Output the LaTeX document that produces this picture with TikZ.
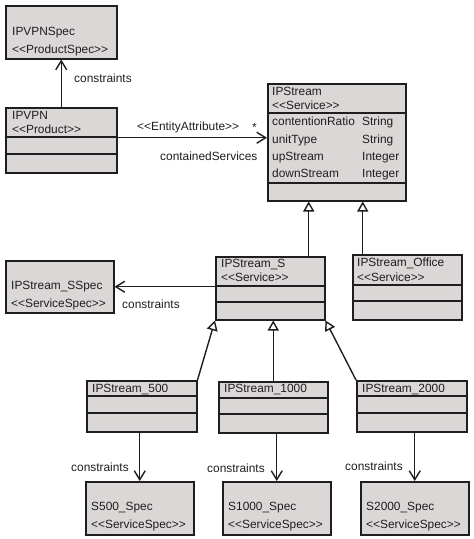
\documentclass[tikz,border=0pt]{standalone}
\usepackage{fontspec}
\setmainfont{Liberation Sans}
\usetikzlibrary{arrows.meta}
\definecolor{boxfill}{RGB}{220,215,215}
\definecolor{ink}{RGB}{30,30,30}
\begin{document}
\begin{tikzpicture}[x=1pt,y=-1pt,
  cls/.style={draw=ink, fill=boxfill, line width=1.5pt, rectangle, inner sep=0pt, anchor=north west},
  cline/.style={draw=ink, line width=1.4pt},
  txt/.style={anchor=mid west, inner sep=0pt, font=\fontsize{11.9}{14}\selectfont, text=ink},
  dep/.style={draw=ink, line width=1.4pt, -{Straight Barb[length=9pt,width=11pt]}},
  gen/.style={draw=ink, line width=1.4pt, -{Triangle[length=10pt,width=11pt,fill=white]}}]
\useasboundingbox (0,0) rectangle (474,539);

% class boxes
\node[cls, minimum width=111pt, minimum height=53pt] (ipvpnspec) at (5,5) {};
\node[cls, minimum width=111pt, minimum height=65pt] (ipvpn) at (5,107) {};
\node[cls, minimum width=138pt, minimum height=117pt] (ipstream) at (267,83) {};
\node[cls, minimum width=108pt, minimum height=52pt] (sspec) at (5,260) {};
\node[cls, minimum width=109pt, minimum height=63pt] (ipsS) at (215,256) {};
\node[cls, minimum width=109pt, minimum height=65pt] (ipsO) at (352,254) {};
\node[cls, minimum width=110pt, minimum height=51pt] (ips500) at (86,380) {};
\node[cls, minimum width=109pt, minimum height=51pt] (ips1000) at (218,381) {};
\node[cls, minimum width=110pt, minimum height=51pt] (ips2000) at (356,380) {};
\node[cls, minimum width=108pt, minimum height=53pt] (s500) at (85,481) {};
\node[cls, minimum width=108pt, minimum height=53pt] (s1000) at (222,481) {};
\node[cls, minimum width=108pt, minimum height=53pt] (s2000) at (360,481) {};

% compartment lines
\draw[cline] (ipvpn.west |- 0,137) -- (ipvpn.east |- 0,137);
\draw[cline] (ipvpn.west |- 0,154) -- (ipvpn.east |- 0,154);
\draw[cline] (ipstream.west |- 0,113) -- (ipstream.east |- 0,113);
\draw[cline] (ipstream.west |- 0,183) -- (ipstream.east |- 0,183);
\draw[cline] (ipsS.west |- 0,286) -- (ipsS.east |- 0,286);
\draw[cline] (ipsS.west |- 0,302) -- (ipsS.east |- 0,302);
\draw[cline] (ipsO.west |- 0,285) -- (ipsO.east |- 0,285);
\draw[cline] (ipsO.west |- 0,301) -- (ipsO.east |- 0,301);
\draw[cline] (ips500.west |- 0,396) -- (ips500.east |- 0,396);
\draw[cline] (ips500.west |- 0,413) -- (ips500.east |- 0,413);
\draw[cline] (ips1000.west |- 0,398) -- (ips1000.east |- 0,398);
\draw[cline] (ips1000.west |- 0,414) -- (ips1000.east |- 0,414);
\draw[cline] (ips2000.west |- 0,396) -- (ips2000.east |- 0,396);
\draw[cline] (ips2000.west |- 0,413) -- (ips2000.east |- 0,413);

% texts in boxes
\node[txt] (tA1) at (12,33) {IPVPNSpec};
\node[txt] (tA2) at (12,51) {<{}<ProductSpec>{}>};
\node[txt] (tB1) at (12,117) {IPVPN};
\node[txt] (tB2) at (12,131) {<{}<Product>{}>};
\node[txt] (tC1) at (272,93) {IPStream};
\node[txt] (tC2) at (272,107) {<{}<Service>{}>};
\node[txt] (tC3) at (272,123) {contentionRatio};
\node[txt] (tC4) at (272,141) {unitType};
\node[txt] (tC5) at (272,158) {upStream};
\node[txt] (tC6) at (272,175) {downStream};
\node[txt] (tC7) at (362,123) {String};
\node[txt] (tC8) at (362,141) {String};
\node[txt] (tC9) at (362,158) {Integer};
\node[txt] (tC10) at (362,175) {Integer};
\node[txt] (tD1) at (11,287) {IPStream\_SSpec};
\node[txt] (tD2) at (11,305) {<{}<ServiceSpec>{}>};
\node[txt] (tE1) at (221,265) {IPStream\_S};
\node[txt] (tE2) at (221,279) {<{}<Service>{}>};
\node[txt] (tF1) at (357,264) {IPStream\_Office};
\node[txt] (tF2) at (357,279) {<{}<Service>{}>};
\node[txt] (tG1) at (92,390) {IPStream\_500};
\node[txt] (tH1) at (224,390) {IPStream\_1000};
\node[txt] (tI1) at (362,390) {IPStream\_2000};
\node[txt] (tJ1) at (91,508) {S500\_Spec};
\node[txt] (tJ2) at (91,526) {<{}<ServiceSpec>{}>};
\node[txt] (tK1) at (228,508) {S1000\_Spec};
\node[txt] (tK2) at (228,526) {<{}<ServiceSpec>{}>};
\node[txt] (tL1) at (366,508) {S2000\_Spec};
\node[txt] (tL2) at (366,526) {<{}<ServiceSpec>{}>};

% connectors
\draw[dep] (ipvpn.north) -- (ipvpnspec.south);
\draw[dep] ([yshift=2.5pt]ipvpn.east) -- ([yshift=2.5pt]ipvpn.east -| ipstream.west);
\draw[gen] ([xshift=38.5pt]ipsS.north) -- ([xshift=38.5pt]ipsS.north |- ipstream.south);
\draw[gen] ([xshift=-44.5pt]ipsO.north) -- ([xshift=-44.5pt]ipsO.north |- ipstream.south);
\draw[dep] ([yshift=1.5pt]ipsS.west) -- ([yshift=1.5pt]ipsS.west -| sspec.east);
\draw[gen] (ips500.north east) -- (ipsS.south west);
\draw[gen] (ips1000.north) -- (ips1000.north |- ipsS.south);
\draw[gen] (ips2000.north west) -- (ipsS.south east);
\draw[dep] (ips500.south -| s500.north) -- (s500.north);
\draw[dep] (ips1000.south -| s1000.north) -- (s1000.north);
\draw[dep] (ips2000.south -| s2000.north) -- (s2000.north);

% connector labels
\node[txt] (l1) at (74,80) {constraints};
\node[txt] (l2) at (137,128) {<{}<EntityAttribute>{}>};
\node[txt, anchor=base west] (l3) at (252,131) {*};
\node[txt] (l4) at (160,158) {containedServices};
\node[txt] (l5) at (122,306) {constraints};
\node[txt] (l6) at (71,469) {constraints};
\node[txt] (l7) at (207,470) {constraints};
\node[txt] (l8) at (345,468) {constraints};
\end{tikzpicture}
\end{document}
